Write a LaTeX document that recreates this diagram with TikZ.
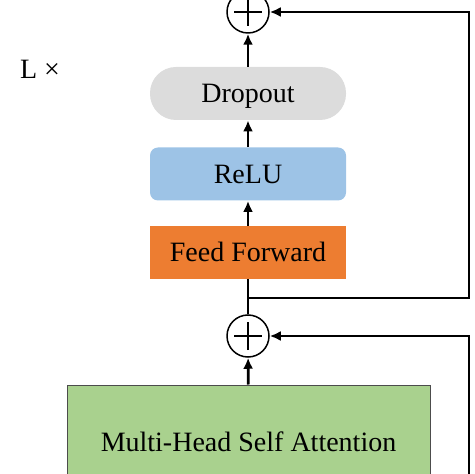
\documentclass[tikz,border=0pt]{standalone}
\usepackage{fontspec}
\setmainfont{Liberation Serif}
\usetikzlibrary{arrows.meta}
\definecolor{dropgray}{HTML}{DCDCDC}
\definecolor{relublue}{HTML}{9DC3E6}
\definecolor{fforange}{HTML}{ED7D31}
\definecolor{attgreen}{HTML}{A9D18E}
\begin{document}
\begin{tikzpicture}[x=0.5pt,y=-0.5pt,
  every node/.style={font=\fontsize{14}{16}\selectfont,text height=9.3pt,text depth=0pt},
  block/.style={minimum width=98pt,minimum height=26.5pt,inner sep=0pt},
  addop/.style={draw,circle,line width=0.75pt,minimum size=21pt,inner sep=0pt},
  link/.style={line width=1.4pt},
  >={Latex[length=5.5pt,width=5pt]}]
\def\cx{248}
\def\rx{469}
\useasboundingbox (0,0) rectangle (474,474);
\clip (0,0) rectangle (474,474);
\node[addop] (add1) at (\cx,12) {};
\node[block,fill=dropgray,rounded corners=13pt] (drop) at (\cx,93.5) {Dropout};
\node[block,fill=relublue,rounded corners=4pt] (relu) at (\cx,174) {ReLU};
\node[block,fill=fforange] (ff) at (\cx,252.5) {Feed Forward};
\node[addop] (add2) at (\cx,336) {};
\node[draw=black!70,line width=0.5pt,fill=attgreen,minimum width=181.5pt,minimum height=57pt,inner sep=0pt] (mha) at (248.5,442) {Multi-Head Self Attention};
\node (layers) at (40,69) {L ×};
\foreach \n in {add1,add2}
  \draw[line width=0.7pt] ([xshift=-7pt]\n.center) -- ([xshift=7pt]\n.center)
    ([yshift=-7pt]\n.center) -- ([yshift=7pt]\n.center);
\coordinate (split) at (\cx,298);
\coordinate (skip1) at (\rx,298);
\coordinate (skip2) at (\rx,480);
\draw[link,->] (mha) -- (add2);
\draw[link] (add2) -- (ff);
\draw[link,->] (ff) -- (relu);
\draw[link,->] (relu) -- (drop);
\draw[link,->] (drop) -- (add1);
\draw[link,->] (split) -- (skip1) |- (add1.east);
\draw[link,->] (skip2) |- (add2.east);
\end{tikzpicture}
\end{document}
